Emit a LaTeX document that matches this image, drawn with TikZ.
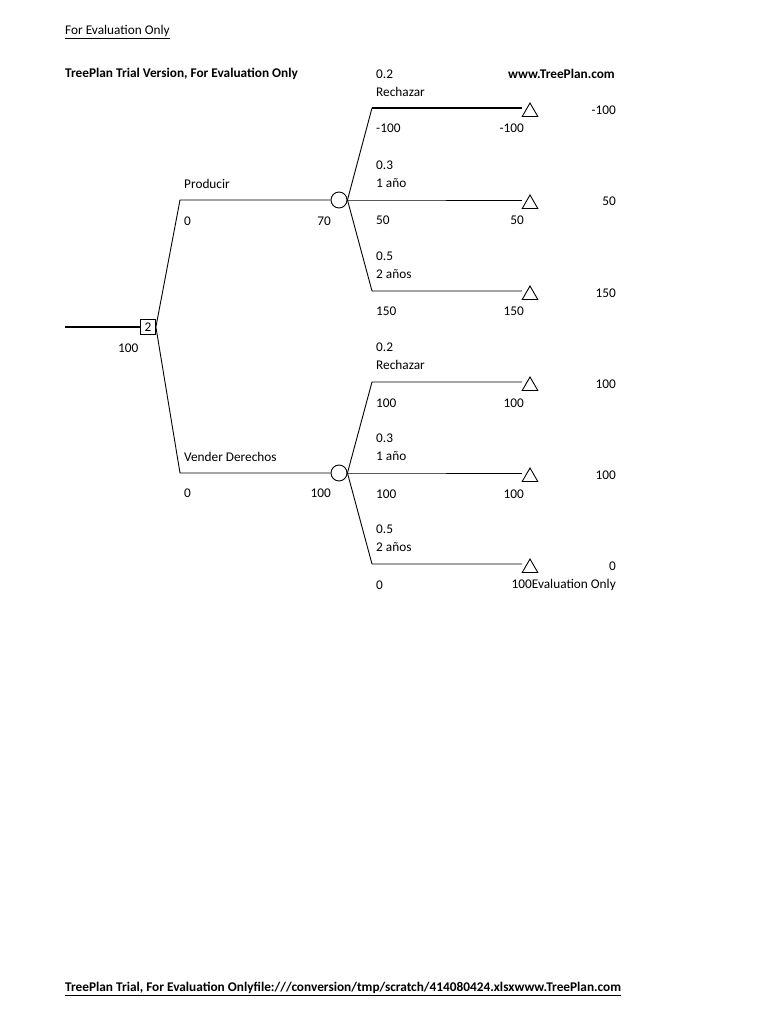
\documentclass[tikz,border=0pt]{standalone}
\usepackage{fontspec}
\setmainfont{Carlito}
\usetikzlibrary{shapes.geometric}
\begin{document}
\begin{tikzpicture}[x=1pt,y=-1pt,
 t/.style={inner sep=0pt,anchor=west,font=\fontsize{13.3}{15}\selectfont},
 tb/.style={t,font=\fontsize{13.3}{15}\selectfont\bfseries},
 tr/.style={inner sep=0pt,anchor=east,font=\fontsize{13.3}{15}\selectfont},
 ln/.style={line width=0.9pt},
 thk/.style={line width=1.8pt},
 term/.style={regular polygon,regular polygon sides=3,draw,line width=0.9pt,minimum size=18pt,inner sep=0pt},
 chance/.style={circle,draw,line width=0.9pt,minimum size=16pt,inner sep=0pt}]
\useasboundingbox (0,0) rectangle (768,1024);
\node[t] (h1) at (65,32) {\underline{For Evaluation Only}};
\node[tb] (h2) at (65,74) {TreePlan Trial Version, For Evaluation Only};
\node[tb,anchor=east] (h3) at (615,74) {www.TreePlan.com};
\node[t] (f) at (65,989) {\bfseries\underline{TreePlan Trial, For Evaluation Onlyfile:///conversion/tmp/scratch/414080424.xlsxwww.TreePlan.com}};
% root
\coordinate (r0) at (65,327);
\node[draw,line width=0.9pt,minimum size=15pt,inner sep=0pt,anchor=west,font=\fontsize{13.3}{15}\selectfont] (d) at (140,327) {2};
\draw[thk] (r0) -- (d.west);
\node[t] (l100) at (118,348) {100};
% decision branches
\coordinate (p1) at (180,200); \coordinate (v1) at (180,473);
\node[chance] (c1) at (339,200) {};
\node[chance] (c2) at (339,473) {};
\draw[ln] (d.east) -- (p1) -- (c1.west);
\draw[ln] (d.east) -- (v1) -- (c2.west);
\node[t] at (184,184) {Producir};
\node[t] at (184,221) {0};
\node[tr] at (331,221) {70};
\node[t] at (184,457) {Vender Derechos};
\node[t] at (184,493) {0};
\node[tr] at (331,493) {100};
% top chance
\coordinate (a1) at (372,108); \coordinate (a2) at (372,200); \coordinate (a3) at (372,291);
\node[term] (ta1) at (530,112) {}; \node[term] (ta2) at (530,204) {}; \node[term] (ta3) at (530,295) {};
\draw[ln] (c1.east) -- (a1); \draw[thk] (a1) -- (522,108);
\draw[ln] (c1.east) -- (a2) -- (522,200);
\draw[ln] (c1.east) -- (a3) -- (522,291);
\node[t] at (376,74) {0.2}; \node[t] at (376,92) {Rechazar}; \node[t] at (376,128) {-100}; \node[tr] at (524,128) {-100}; \node[tr] at (616,110) {-100};
\node[t] at (376,165) {0.3}; \node[t] at (376,183) {1 año}; \node[t] at (376,220) {50}; \node[tr] at (524,220) {50}; \node[tr] at (616,201) {50};
\node[t] at (376,256) {0.5}; \node[t] at (376,274) {2 años}; \node[t] at (376,311) {150}; \node[tr] at (524,311) {150}; \node[tr] at (616,293) {150};
% bottom chance
\coordinate (b1) at (372,382); \coordinate (b2) at (372,473); \coordinate (b3) at (372,564);
\node[term] (tb1) at (530,386) {}; \node[term] (tb2) at (530,477) {}; \node[term] (tb3) at (530,568) {};
\draw[ln] (c2.east) -- (b1) -- (522,382);
\draw[ln] (c2.east) -- (b2) -- (522,473);
\draw[ln] (c2.east) -- (b3) -- (522,564);
\node[t] at (376,347) {0.2}; \node[t] at (376,365) {Rechazar}; \node[t] at (376,403) {100}; \node[tr] at (524,403) {100}; \node[tr] at (616,384) {100};
\node[t] at (376,438) {0.3}; \node[t] at (376,456) {1 año}; \node[t] at (376,494) {100}; \node[tr] at (524,494) {100}; \node[tr] at (616,475) {100};
\node[t] at (376,529) {0.5}; \node[t] at (376,547) {2 años}; \node[t] at (376,585) {0}; \node[tr] at (616,585) {100Evaluation Only}; \node[tr] at (616,566) {0};
\end{tikzpicture}
\end{document}
